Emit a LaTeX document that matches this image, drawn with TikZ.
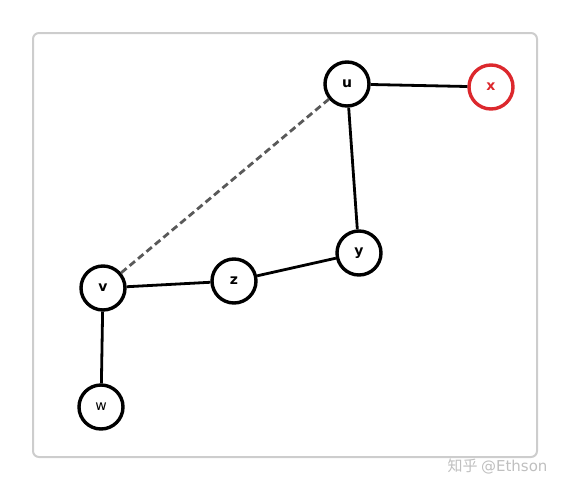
\documentclass[tikz,border=0pt]{standalone}
\usepackage{fontspec}
\setsansfont{DejaVu Sans}
\newfontfamily\cjkfont{Noto Sans CJK SC}
\definecolor{framegray}{RGB}{205,205,205}
\definecolor{markred}{RGB}{220,40,45}
\begin{document}
\begin{tikzpicture}[x=1pt,y=-1pt]
    \tikzstyle{vertex}=[circle,draw,line width=3.4pt,minimum size=44pt,inner sep=0pt,font=\sffamily\bfseries\fontsize{14}{16}\selectfont]
    \tikzstyle{edge}=[line width=2.8pt]
    \tikzstyle{every node}=[vertex]
    \useasboundingbox (0,0) rectangle (570,490);
    \draw[framegray,line width=2pt,rounded corners=6pt] (33,33) rectangle (537,457);
    \node (u) at (347,84) {u};
    \node[draw=markred,text=markred] (x) at (491,87) {x};
    \node (y) at (359,253) {y};
    \node (z) at (234,281) {z};
    \node (v) at (103,288) {v};
    \node[font=\sffamily\fontsize{14}{16}\selectfont] (w) at (101,407) {w};
    \draw[edge] (u) -- (x);
    \draw[edge] (u) -- (y);
    \draw[edge] (y) -- (z);
    \draw[edge] (z) -- (v);
    \draw[edge] (v) -- (w);
    \draw[edge,gray!70!black,dash pattern=on 7pt off 4pt] (v) -- (u);
    \node[draw=none,circle=false,rectangle,minimum size=0pt,font=\fontsize{15}{17}\selectfont,text=gray!50,anchor=west] (mark) at (446,466) {\cjkfont 知乎\ \sffamily\mdseries @Ethson};
\end{tikzpicture}
\end{document}
